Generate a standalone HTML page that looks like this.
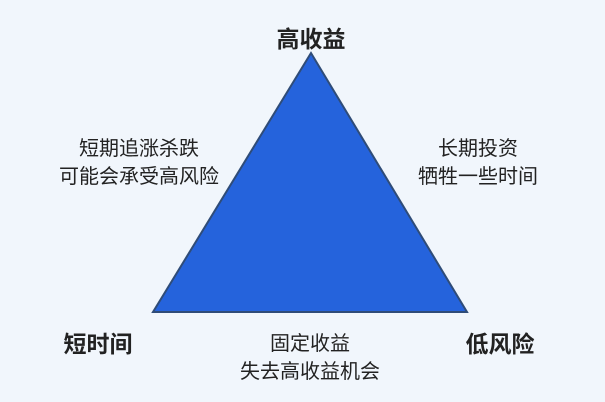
<!DOCTYPE html>
<html><head><meta charset="utf-8"><style>
html,body{margin:0;padding:0;}
body{width:605px;height:402px;background:#f1f6fc;position:relative;overflow:hidden;font-family:"Liberation Sans","Noto Sans CJK SC",sans-serif;color:#222;}
.t{position:absolute;white-space:nowrap;text-align:center;}
.b{font-weight:bold;font-size:23px;}
.n{font-size:20px;line-height:28px;}
</style></head><body>
<svg width="605" height="402" style="position:absolute;left:0;top:0">
<polygon points="311,53 153,312 467,312" fill="#2563dc" stroke="#2f4c78" stroke-width="2"/>
</svg>
<div class="t b" style="left:261px;top:20px;width:100px;">高收益</div>
<div class="t b" style="left:48px;top:325px;width:100px;">短时间</div>
<div class="t b" style="left:450px;top:325px;width:100px;">低风险</div>
<div class="t n" style="left:39px;top:135px;width:200px;">短期追涨杀跌<br>可能会承受高风险</div>
<div class="t n" style="left:378px;top:135px;width:200px;">长期投资<br>牺牲一些时间</div>
<div class="t n" style="left:210px;top:330px;width:200px;">固定收益<br>失去高收益机会</div>
</body></html>
